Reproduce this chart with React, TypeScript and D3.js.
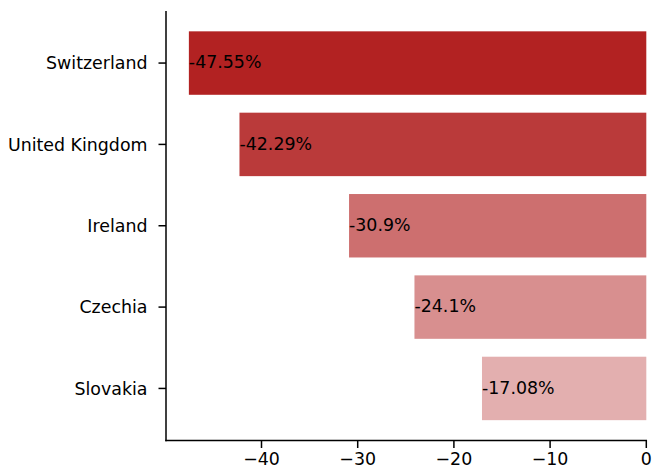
import React from "react";
import * as d3 from "d3";

const countries = ["Switzerland", "United Kingdom", "Ireland", "Czechia", "Slovakia"];
const values = [-47.55, -42.29, -30.9, -24.1, -17.08];
const labels = ["-47.55%", "-42.29%", "-30.9%", "-24.1%", "-17.08%"];
const xTicks = [-40, -30, -20, -10, 0];

const W = 653;
const H = 472;
const left = 166;
const right = 646.3;
const top = 11;
const bottom = 440.5;
const FONT = "'DejaVu Sans', sans-serif";
const FS = 17.4;

export default function App() {
  const minV = d3.min(values) as number;
  const maxAbs = d3.max(values, (v) => Math.abs(v)) as number;
  const x = d3.scaleLinear().domain([minV * 1.05, 0]).range([left, right]);
  const n = countries.length;
  const pad = (n - 1 + 0.8) * 0.05;
  const y = d3
    .scaleLinear()
    .domain([-0.4 - pad, n - 1 + 0.4 + pad])
    .range([top, bottom]);
  const bh = (y(0.4) - y(-0.4)) * 0.975;

  return (
    <svg
      width={W}
      height={H}
      style={{ position: "absolute", left: 0, top: 0, background: "#fff" }}
      fontFamily={FONT}
    >
      {values.map((v, i) => (
        <g key={countries[i]}>
          <rect
            x={x(v)}
            y={y(i) - bh / 2}
            width={x(0) - x(v)}
            height={bh}
            fill="#b22222"
            fillOpacity={Math.abs(v) / maxAbs}
          />
          <text
            x={x(v)}
            y={y(i)}
            dy="0.3em"
            fontSize={FS}
            fill="#000"
            textAnchor="start"
          >
            {labels[i]}
          </text>
        </g>
      ))}
      {/* y axis */}
      <line x1={left} x2={left} y1={top} y2={bottom + 0.75} stroke="#000" strokeWidth={1.5} />
      {countries.map((c, i) => (
        <g key={c}>
          <line x1={left - 7.5} x2={left} y1={y(i)} y2={y(i)} stroke="#000" strokeWidth={1.5} />
          <text
            x={left - 18.5}
            y={y(i)}
            dy="0.36em"
            fontSize={FS}
            textAnchor="end"
            fill="#000"
          >
            {c}
          </text>
        </g>
      ))}
      {/* x axis */}
      <line x1={left - 0.75} x2={right + 0.75} y1={bottom} y2={bottom} stroke="#000" strokeWidth={1.5} />
      {xTicks.map((t) => (
        <g key={t}>
          <line x1={x(t)} x2={x(t)} y1={bottom} y2={bottom + 7.5} stroke="#000" strokeWidth={1.5} />
          <text
            x={x(t)}
            y={bottom + 11}
            dy="0.76em"
            fontSize={FS}
            textAnchor="middle"
            fill="#000"
          >
            {t < 0 ? "\u2212" + Math.abs(t) : String(t)}
          </text>
        </g>
      ))}
    </svg>
  );
}
